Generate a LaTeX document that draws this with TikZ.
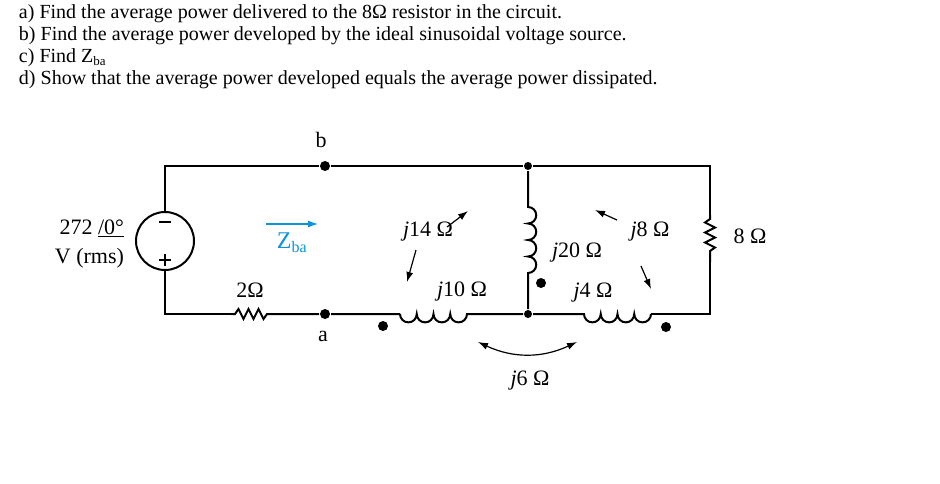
\documentclass[tikz,border=0pt]{standalone}
\usepackage{fontspec}
\setmainfont{Liberation Serif}
\usetikzlibrary{arrows.meta}
\begin{document}
\begin{tikzpicture}[x=1pt,y=-1pt,line width=2pt,
  dot/.style={circle,fill=black,inner sep=0pt,minimum size=10pt},
  lbl/.style={font=\fontsize{22}{24}\selectfont,inner sep=0pt},
  hdr/.style={font=\fontsize{20}{22}\selectfont,anchor=west,inner sep=0pt},
  arr/.style={-{Latex[length=10pt,width=7pt]},line width=1.2pt}]
\useasboundingbox (0,0) rectangle (940,483);
\node[hdr] (h1) at (18,14) {a) Find the average power delivered to the 8Ω resistor in the circuit.};
\node[hdr] (h2) at (18,36) {b) Find the average power developed by the ideal sinusoidal voltage source.};
\node[hdr] (h3) at (18,58) {c) Find Z\textsubscript{\fontsize{13}{14}\selectfont ba}};
\node[hdr] (h4) at (18,80) {d) Show that the average power developed equals the average power dissipated.};
% coordinates
\coordinate (TL) at (165,166); \coordinate (BL) at (165,314);
\coordinate (TR) at (710,166); \coordinate (BR) at (710,314);
\node[dot] (b) at (325,166) {}; \node[dot] (a) at (325,314) {};
\node[dot,minimum size=8pt] (mt) at (528,166) {}; \node[dot,minimum size=8pt] (mb) at (528,314) {};
\node[draw,circle,minimum size=58pt,inner sep=0pt] (src) at (165,241) {};
\draw[line width=1.4pt] (159,222) -- (171,222); \draw[line width=1.4pt] (159,260) -- (171,260) (165,254) -- (165,266);
\draw (src) -- (TL) -- (b) -- (mt) -- (TR) -- (710,215);
\draw (710,262) -- (BR) -- (651,314);
\draw (src) -- (BL) -- (231,314);
% 2 ohm
\draw (231,314) -- (235,314) -- (238.5,309) -- (243.5,319) -- (248.5,309) -- (253.5,319) -- (258.5,309) -- (263.5,319) -- (267,314) -- (274,314) -- (a) -- (400,314);
% 8 ohm
\draw (710,215) -- (710,219) -- (705,222.5) -- (715,227.5) -- (705,232.5) -- (715,237.5) -- (705,242.5) -- (715,247.5) -- (710,251) -- (710,262);
% j10, j4
\draw (400,314) arc[start angle=180,end angle=0,radius=8.375] arc[start angle=180,end angle=0,radius=8.375] arc[start angle=180,end angle=0,radius=8.375] arc[start angle=180,end angle=0,radius=8.375] -- (mb) -- (584,314)
 arc[start angle=180,end angle=0,radius=8.375] arc[start angle=180,end angle=0,radius=8.375] arc[start angle=180,end angle=0,radius=8.375] arc[start angle=180,end angle=0,radius=8.375];
% j20
\draw (mt) -- (528,207) arc[start angle=270,end angle=450,radius=8.25] arc[start angle=270,end angle=450,radius=8.25] arc[start angle=270,end angle=450,radius=8.25] arc[start angle=270,end angle=450,radius=8.25] -- (mb);
% dots
\node[dot] (d1) at (383,326) {}; \node[dot] (d2) at (541,283) {}; \node[dot] (d3) at (666,327) {};
% labels
\node[lbl] (lb) at (321,140) {b}; \node[lbl] (la) at (323,336) {a};
\node[lbl] (l2) at (250,290) {2Ω};
\node[lbl] (l10) at (462,292) {\textit{j}10 Ω};
\node[lbl] (l14) at (428,232) {\textit{j}14 Ω};
\node[lbl] (l20) at (577,253) {\textit{j}20 Ω};
\node[lbl] (l4) at (593,293) {\textit{j}4 Ω};
\node[lbl] (l8) at (650,232) {\textit{j}8 Ω};
\node[lbl] (l8r) at (750,236) {8 Ω};
\node[lbl] (l6) at (530,381) {\textit{j}6 Ω};
\node[lbl,anchor=east] (v1) at (125,228) {272 \underline{/0°}};
\node[lbl,anchor=east] (v2) at (125,258) {V (rms)};
\node[lbl,text=cyan!80!blue,font=\fontsize{24}{26}\selectfont] (z) at (292,243) {Z\textsubscript{\fontsize{16}{17}\selectfont ba}};
\draw[arr,cyan!80!blue] (266,224) -- (318,224);
% arrows
\draw[arr] (447,227) -- (468,211);
\draw[arr] (416,250) -- (407,282);
\draw[arr] (617,220) -- (595,210);
\draw[arr] (641,266) -- (651,289);
\draw[arr,{Latex[length=10pt,width=7pt]}-{Latex[length=10pt,width=7pt]}] (478,342) to[bend right=25] (577,342);
\end{tikzpicture}
\end{document}
